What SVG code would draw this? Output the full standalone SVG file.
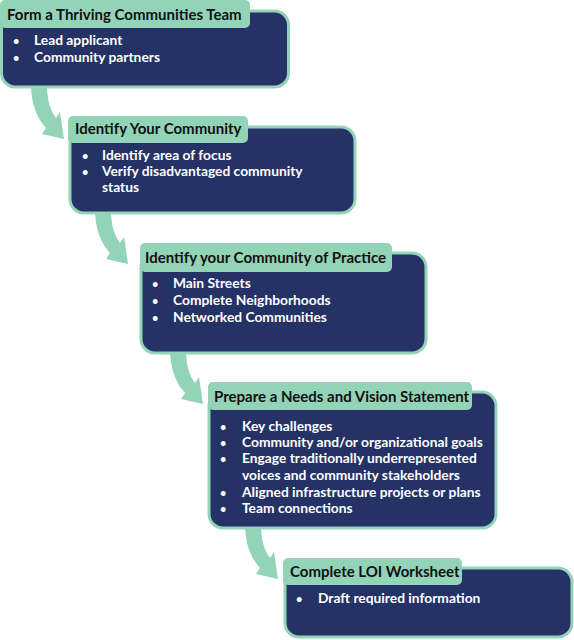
<svg xmlns="http://www.w3.org/2000/svg" width="574" height="640" viewBox="0 0 574 640">
<defs>
<style>
.body{fill:#243266;stroke:#93d3b7;stroke-width:3}
.tab{fill:#93d3b7}
.title{font-family:Lato,"Open Sans",sans-serif;font-weight:bold;font-size:15px;fill:#111}
.item{font-family:Lato,"Open Sans",sans-serif;font-weight:bold;font-size:13.8px;fill:#fff}
.dot{font-family:Lato,"Open Sans",sans-serif;font-weight:bold;font-size:11px;fill:#fff}
.arrow{fill:#93d3b7}
</style>
<path id="arr" class="arrow" d="M0,-4 L16,-4 C16,12 19,22 25,30 L29,24 L33,51 L11,46 L15,40 C6,30 0,16 0,-4 Z"/>
</defs>
<rect width="574" height="640" fill="#fff"/>
<g id="connectors">
<use href="#arr" x="31" y="88"/>
<use href="#arr" x="95" y="213"/>
<use href="#arr" x="170" y="353"/>
<use href="#arr" x="245" y="528"/>
</g>
<g id="step1">
<rect class="body" x="1.5" y="11" width="287" height="76" rx="14"/>
<rect class="tab" x="0" y="0" width="250" height="28" rx="5"/>
<text class="title" x="7" y="20">Form a Thriving Communities Team</text>
<text class="dot" x="13" y="45">•</text><text class="item" x="34" y="45">Lead applicant</text>
<text class="dot" x="13" y="62">•</text><text class="item" x="34" y="62">Community partners</text>
</g>
<g id="step2">
<rect class="body" x="70" y="127" width="285" height="86" rx="14"/>
<rect class="tab" x="68" y="116" width="180" height="27" rx="5"/>
<text class="title" x="75" y="134">Identify Your Community</text>
<text class="dot" x="82" y="160">•</text><text class="item" x="102" y="160">Identify area of focus</text>
<text class="dot" x="82" y="176">•</text><text class="item" x="102" y="176">Verify disadvantaged community</text>
<text class="item" x="102" y="192">status</text>
</g>
<g id="step3">
<rect class="body" x="141" y="253" width="285" height="100" rx="14"/>
<rect class="tab" x="140" y="243" width="252" height="29" rx="5"/>
<text class="title" x="145" y="263">Identify your Community of Practice</text>
<text class="dot" x="152" y="288">•</text><text class="item" x="173" y="288">Main Streets</text>
<text class="dot" x="152" y="305">•</text><text class="item" x="173" y="305">Complete Neighborhoods</text>
<text class="dot" x="152" y="322">•</text><text class="item" x="173" y="322">Networked Communities</text>
</g>
<g id="step4">
<rect class="body" x="209" y="392" width="287" height="136" rx="14"/>
<rect class="tab" x="208" y="382" width="264" height="28" rx="5"/>
<text class="title" x="214" y="402">Prepare a Needs and Vision Statement</text>
<text class="dot" x="220" y="431">•</text><text class="item" x="242" y="431">Key challenges</text>
<text class="dot" x="220" y="447">•</text><text class="item" x="242" y="447">Community and/or organizational goals</text>
<text class="dot" x="220" y="463">•</text><text class="item" x="242" y="463">Engage traditionally underrepresented</text>
<text class="item" x="242" y="480">voices and community stakeholders</text>
<text class="dot" x="220" y="497">•</text><text class="item" x="242" y="497">Aligned infrastructure projects or plans</text>
<text class="dot" x="220" y="513">•</text><text class="item" x="242" y="513">Team connections</text>
</g>
<g id="step5">
<rect class="body" x="285" y="568" width="287" height="69" rx="14"/>
<rect class="tab" x="283" y="558" width="179" height="27" rx="5"/>
<text class="title" x="290" y="577">Complete LOI Worksheet</text>
<text class="dot" x="296" y="603">•</text><text class="item" x="318" y="603">Draft required information</text>
</g>
</svg>
